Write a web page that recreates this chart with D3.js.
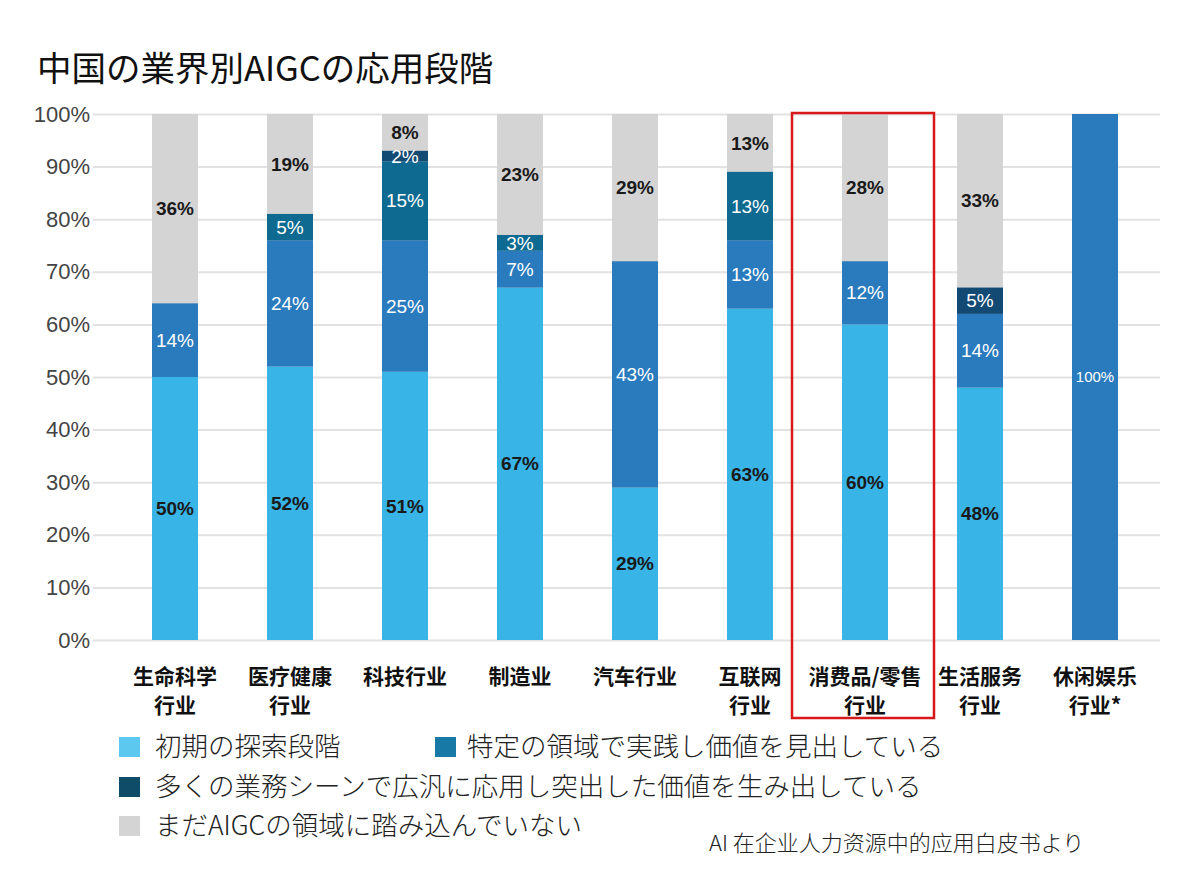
<!DOCTYPE html>
<html>
<head>
<meta charset="utf-8">
<script src="https://cdn.jsdelivr.net/npm/d3@7"></script>
<style>
  body { margin: 0; background: #fff; }
  svg { display: block; }
</style>
</head>
<body>
<svg></svg>
<script>
// categories (line breaks as in the original labels)
let industries = [
    ["生命科学", "行业"], ["医疗健康", "行业"], ["科技行业"], ["制造业"], ["汽车行业"],
    ["互联网", "行业"], ["消费品/零售", "行业"], ["生活服务", "行业"], ["休闲娱乐", "行业*"]
]

// stage values (%)
let explore  = [50, 52, 51, 67, 29, 63, 60, 48, 0]
let practice = [14, 24, 25, 7, 43, 13, 12, 14, 100]
let wide     = [0, 5, 15, 3, 0, 13, 0, 0, 0]
let deep     = [0, 0, 2, 0, 0, 0, 0, 5, 0]
let notYet   = [36, 19, 8, 23, 29, 13, 28, 33, 0]

let yTicks = [0, 10, 20, 30, 40, 50, 60, 70, 80, 90, 100]

let legendLabels = [
    "初期の探索段階",
    "特定の領域で実践し価値を見出している",
    "多くの業務シーンで広汎に応用し突出した価値を生み出している",
    "まだAIGCの領域に踏み込んでいない"
]
let legendColors = ["#5cc8f0", "#1779a6", "#0e4c68", "#d4d4d4"]

let keys = ["explore", "practice", "wide", "deep"]
let barColors = { explore: "#38b4e6", practice: "#2a7bbd", wide: "#0e6a90", deep: "#134a74" }
let grey = "#d4d4d4"

let width = 1200
let height = 875
let plotLeft = 93
let plotRight = 1160
let plotTop = 114
let plotBottom = 640
let barW = 46

let rows = industries.map((d, i) => ({
    name: d, explore: explore[i], practice: practice[i], wide: wide[i], deep: deep[i], notYet: notYet[i]
}))

let svg = d3.select("svg").attr("width", width).attr("height", height)

let xScale = d3.scalePoint()
    .domain(d3.range(industries.length))
    .range([175, 1095])

let yScale = d3.scaleLinear()
    .domain([0, 100])
    .range([plotBottom, plotTop])

// title
svg.append("text")
    .attr("x", 37)
    .attr("y", 81)
    .attr("font-family", "'Noto Sans CJK JP', sans-serif")
    .attr("font-size", 34.5)
    .attr("fill", "#111")
    .text("中国の業界別AIGCの応用段階")

// y axis + grid
let yAxis = d3.axisLeft(yScale)
    .tickValues(yTicks)
    .tickSize(-(plotRight - plotLeft))
    .tickPadding(3)
    .tickFormat(d => d + "%")

let yG = svg.append("g")
    .attr("transform", "translate(" + plotLeft + ",0)")
    .call(yAxis)
yG.select(".domain").remove()
yG.selectAll(".tick line").attr("stroke", "#e2e2e2").attr("stroke-width", 2)
yG.selectAll(".tick text")
    .attr("font-family", "'Liberation Sans', Arial, sans-serif")
    .attr("font-size", 22)
    .attr("fill", "#444")

// grey "not yet" background for every bar with a grey share
svg.append("g").selectAll("rect")
    .data(rows.map((r, i) => ({ r: r, i: i })).filter(o => o.r.notYet > 0))
    .enter()
    .append("rect")
    .attr("x", o => xScale(o.i) - barW / 2)
    .attr("y", yScale(100))
    .attr("width", barW)
    .attr("height", yScale(0) - yScale(100))
    .attr("fill", grey)

// stacked coloured segments
let stacked = d3.stack().keys(keys)(rows)

let segs = svg.append("g").selectAll("g")
    .data(stacked)
    .enter()
    .append("g")
    .attr("fill", s => barColors[s.key])

segs.selectAll("rect")
    .data(s => s.map((d, i) => ({ d: d, i: i })).filter(o => o.d[1] > o.d[0]))
    .enter()
    .append("rect")
    .attr("x", o => xScale(o.i) - barW / 2)
    .attr("y", o => yScale(Math.min(100, o.d[1])))
    .attr("width", barW)
    .attr("height", o => yScale(o.d[0]) - yScale(Math.min(100, o.d[1])))

// value labels
let labels = []
stacked.forEach(s => {
    s.forEach((d, i) => {
        let v = d[1] - d[0]
        if (v > 0) labels.push({ i: i, y: (d[0] + Math.min(100, d[1])) / 2, v: v, key: s.key })
    })
})
rows.forEach((r, i) => {
    if (r.notYet > 0) {
        let base = r.explore + r.practice + r.wide + r.deep
        labels.push({ i: i, y: (base + 100) / 2, v: r.notYet, key: "notYet" })
    }
})

svg.append("g").selectAll("text")
    .data(labels)
    .enter()
    .append("text")
    .attr("x", l => xScale(l.i))
    .attr("y", l => yScale(l.y))
    .attr("dy", "0.35em")
    .attr("text-anchor", "middle")
    .attr("font-family", "'Liberation Sans', Arial, sans-serif")
    .attr("font-size", l => l.v === 100 ? 15 : 19)
    .attr("font-weight", l => (l.key === "explore" || l.key === "notYet") ? "bold" : "normal")
    .attr("fill", l => (l.key === "explore" || l.key === "notYet") ? "#1a1a1a" : "#fff")
    .text(l => l.v + "%")

// x category labels
let xl = svg.append("g").selectAll("text")
    .data(industries)
    .enter()
    .append("text")
    .attr("text-anchor", "middle")
    .attr("font-family", "'Noto Sans CJK SC', sans-serif")
    .attr("font-weight", "bold")
    .attr("font-size", 21)
    .attr("fill", "#111")

xl.selectAll("tspan")
    .data((d, i) => d.map(t => ({ t: t, i: i })))
    .enter()
    .append("tspan")
    .attr("x", o => xScale(o.i))
    .attr("y", (o, j) => 684 + j * 29)
    .text(o => o.t)

// highlight box around consumer goods / retail
let hi = 6
svg.append("rect")
    .attr("x", xScale(hi) - 73)
    .attr("y", 113)
    .attr("width", 142)
    .attr("height", 605)
    .attr("fill", "none")
    .attr("stroke", "#d7191c")
    .attr("stroke-width", 2.5)

// legend
let legendPos = [[119, 737], [435, 737], [119, 777], [119, 816]]
let lg = svg.append("g").selectAll("g")
    .data(legendLabels)
    .enter()
    .append("g")
    .attr("transform", (d, i) => "translate(" + legendPos[i][0] + "," + legendPos[i][1] + ")")

lg.append("rect")
    .attr("width", 21)
    .attr("height", 20)
    .attr("fill", (d, i) => legendColors[i])

lg.append("text")
    .attr("x", (d, i) => i === 1 ? 32 : 36)
    .attr("y", 10)
    .attr("dy", "0.35em")
    .attr("font-family", "'Noto Sans CJK JP', sans-serif")
    .attr("font-weight", 300)
    .attr("font-size", 26.5)
    .attr("fill", "#222")
    .text(d => d)

// source
svg.append("text")
    .attr("x", 709)
    .attr("y", 843)
    .attr("dy", "0.35em")
    .attr("font-family", "'Noto Sans CJK SC', sans-serif")
    .attr("font-weight", 300)
    .attr("font-size", 22)
    .attr("fill", "#222")
    .text("AI 在企业人力资源中的应用白皮书より")
</script>
</body>
</html>
